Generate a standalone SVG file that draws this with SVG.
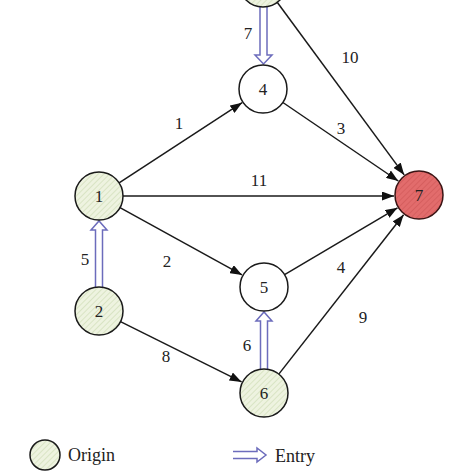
<svg xmlns="http://www.w3.org/2000/svg" width="474" height="474" viewBox="0 0 474 474">
<style>
.edge{stroke:#1a1a1a;stroke-width:1.5;fill:none;marker-end:url(#ah)}
.entry{stroke:#6c6cbc;stroke-width:1.5;fill:#fff}
.node{stroke:#1a1a1a;stroke-width:1.5}
.g{fill:url(#hg)}
.w{fill:#fff}
.r{fill:url(#hr);stroke:#3a1414}
text{font-family:"Liberation Serif","DejaVu Serif",serif;font-size:17px;fill:#222;text-anchor:middle;dominant-baseline:central}
.leg{font-size:18px;text-anchor:start}
</style>
<defs>
<marker id="ah" markerWidth="12" markerHeight="9" refX="12" refY="4.5" orient="auto" markerUnits="userSpaceOnUse">
<path d="M0,0 L12,4.5 L0,9 z" fill="#111"/>
</marker>
<pattern id="hg" width="4" height="4" patternUnits="userSpaceOnUse" patternTransform="rotate(45)">
<rect width="4" height="4" fill="#eef3e0"/>
<line x1="0" y1="0" x2="0" y2="4" stroke="#d3dfbb" stroke-width="1.5"/>
</pattern>
<pattern id="hr" width="4" height="4" patternUnits="userSpaceOnUse" patternTransform="rotate(45)">
<rect width="4" height="4" fill="#e26c6c"/>
<line x1="0" y1="0" x2="0" y2="4" stroke="#d25a5a" stroke-width="1.5"/>
</pattern>
</defs>
<g id="connectors">
<line class="edge" x1="119.1" y1="182.9" x2="242.1" y2="102.7"/>
<line class="edge" x1="123" y1="196" x2="394" y2="196"/>
<line class="edge" x1="120" y1="207.6" x2="242.1" y2="274.9"/>
<line class="edge" x1="120.5" y1="321.7" x2="241.6" y2="381.9"/>
<line class="edge" x1="282.9" y1="102.5" x2="398.3" y2="181"/>
<line class="edge" x1="284.6" y1="274.7" x2="397.5" y2="207.8"/>
<line class="edge" x1="278.8" y1="374.1" x2="403.6" y2="214.7"/>
<line class="edge" x1="277.2" y1="2.3" x2="404.2" y2="174.9"/>
<path class="entry" d="M260,5 L260,55 L255,55 L263.5,64 L272,55 L267,55 L267,5"/>
<path class="entry" d="M95.5,287 L95.5,230 L91,230 L99,221 L107,230 L102.5,230 L102.5,287"/>
<path class="entry" d="M260.5,369 L260.5,321 L256,321 L264,312 L272,321 L267.5,321 L267.5,369"/>
<text x="248" y="33">7</text>
<text x="350" y="57">10</text>
<text x="179" y="123">1</text>
<text x="341" y="128">3</text>
<text x="259" y="180">11</text>
<text x="167" y="261">2</text>
<text x="85" y="259">5</text>
<text x="341" y="267">4</text>
<text x="363" y="317">9</text>
<text x="247" y="345">6</text>
<text x="166" y="356">8</text>
</g>
<g id="node3"><circle class="node g" cx="263" cy="-17" r="24"/></g>
<g id="node4"><circle class="node w" cx="263" cy="89" r="24"/><text x="263" y="89">4</text></g>
<g id="node1"><circle class="node g" cx="99" cy="196" r="24"/><text x="99" y="196">1</text></g>
<g id="node2"><circle class="node g" cx="99" cy="311" r="24"/><text x="99" y="311">2</text></g>
<g id="node5"><circle class="node w" cx="264" cy="287" r="24"/><text x="264" y="287">5</text></g>
<g id="node6"><circle class="node g" cx="264" cy="393" r="24"/><text x="264" y="393">6</text></g>
<g id="node7"><circle class="node r" cx="419" cy="195" r="24"/><text x="419" y="195">7</text></g>
<g id="legend">
<circle class="node g" cx="45" cy="455" r="15"/>
<text class="leg" x="68" y="455">Origin</text>
<path class="entry" d="M233,451.5 L257,451.5 L257,448 L266,455 L257,462 L257,458.5 L233,458.5"/>
<text class="leg" x="275" y="456">Entry</text>
</g>
</svg>
